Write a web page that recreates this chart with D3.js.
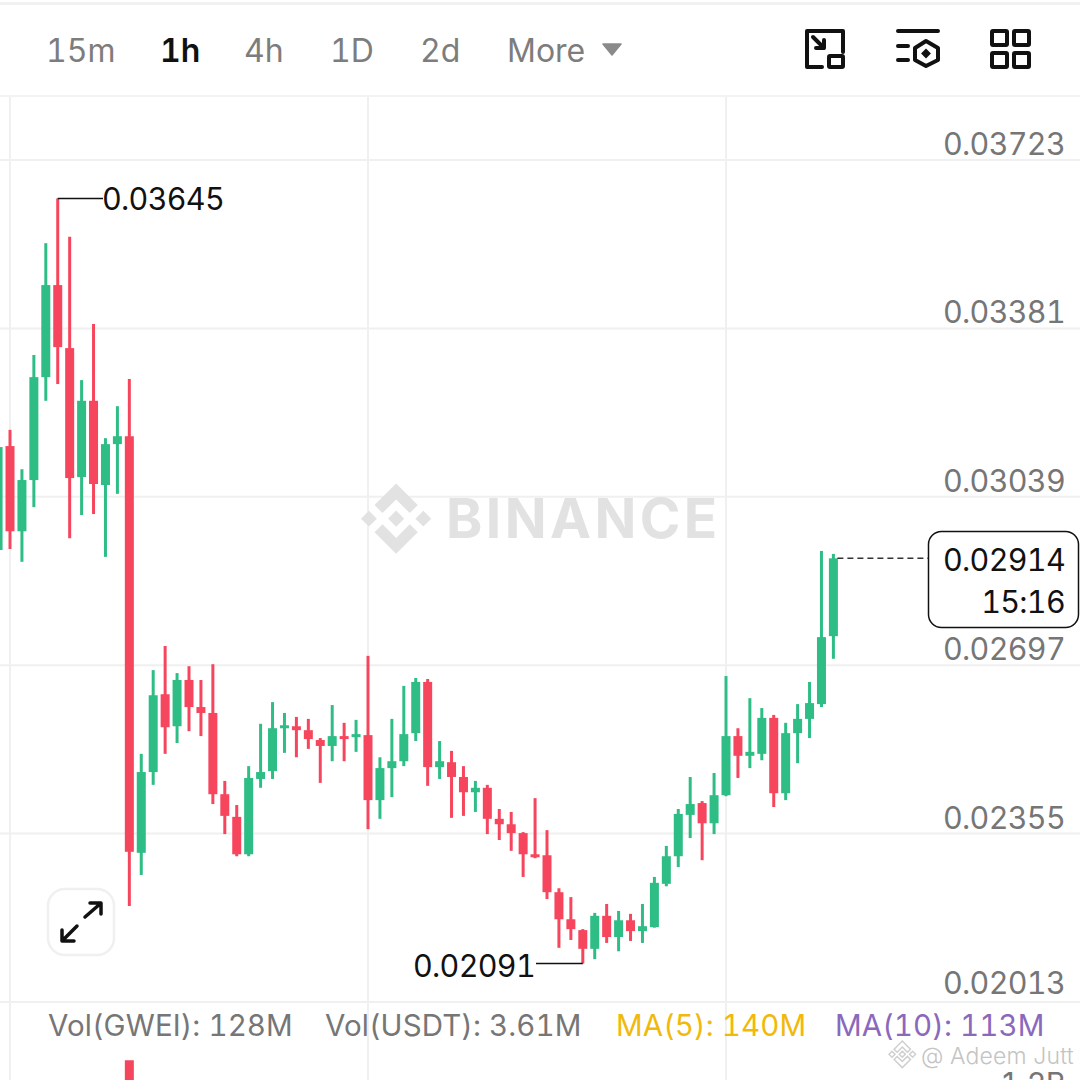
<!DOCTYPE html>
<html>
<head>
<meta charset="utf-8">
<script src="https://cdn.jsdelivr.net/npm/d3@7"></script>
<style>
  html, body { margin: 0; padding: 0; background: #fff; }
  svg { display: block; font-family: "Inter", sans-serif; font-feature-settings: "tnum" 1; font-variant-numeric: tabular-nums; }
</style>
</head>
<body>
<div id="chart"></div>
<script>
// candles, oldest first, prices in 1e-5 units
const opens = [2931, 3142, 2969, 3073, 3282, 3469, 3341, 3079, 3234, 3063, 3146, 3162, 2316, 2480, 2638, 2573, 2667, 2612, 2600, 2435, 2389, 2313, 2466, 2482, 2569, 2573, 2565, 2545, 2533, 2553, 2551, 2555, 2423, 2488, 2502, 2559, 2663, 2490, 2500, 2470, 2439, 2448, 2385, 2374, 2356, 2313, 2311, 2236, 2181, 2159, 2121, 2188, 2145, 2179, 2157, 2165, 2253, 2309, 2393, 2417, 2376, 2433, 2553, 2513, 2517, 2590, 2437, 2559, 2588, 2618, 2756];
const highs = [3170, 3175, 3095, 3327, 3554, 3645, 3567, 3276, 3390, 3158, 3223, 3278, 2517, 2687, 2736, 2681, 2695, 2667, 2699, 2462, 2413, 2492, 2578, 2622, 2600, 2592, 2588, 2549, 2616, 2580, 2586, 2716, 2510, 2588, 2655, 2671, 2669, 2543, 2523, 2492, 2462, 2454, 2405, 2399, 2358, 2427, 2362, 2244, 2226, 2161, 2194, 2212, 2198, 2192, 2212, 2267, 2330, 2405, 2470, 2421, 2478, 2675, 2569, 2630, 2610, 2596, 2580, 2618, 2663, 2929, 2923];
const lows = [2930, 2933, 2907, 3018, 3234, 3268, 2955, 3002, 3004, 2917, 3045, 2208, 2271, 2454, 2517, 2539, 2563, 2553, 2415, 2354, 2309, 2309, 2448, 2466, 2519, 2510, 2527, 2458, 2502, 2502, 2521, 2364, 2385, 2429, 2492, 2543, 2452, 2466, 2387, 2391, 2399, 2354, 2342, 2320, 2267, 2305, 2222, 2123, 2139, 2091, 2100, 2133, 2116, 2137, 2133, 2164, 2248, 2287, 2346, 2301, 2354, 2431, 2468, 2488, 2504, 2409, 2423, 2498, 2549, 2612, 2710];
const closes = [3140, 2969, 3073, 3282, 3469, 3343, 3077, 3234, 3065, 3146, 3162, 2318, 2480, 2636, 2571, 2667, 2612, 2600, 2435, 2391, 2313, 2468, 2480, 2569, 2575, 2565, 2547, 2533, 2553, 2547, 2557, 2423, 2488, 2502, 2557, 2663, 2490, 2502, 2470, 2439, 2448, 2385, 2374, 2356, 2313, 2307, 2236, 2181, 2161, 2121, 2188, 2145, 2179, 2157, 2167, 2255, 2309, 2395, 2415, 2376, 2433, 2553, 2513, 2521, 2590, 2437, 2559, 2588, 2620, 2754, 2914];

// only one volume bar shows above the bottom edge
const volumeIndex = [11];
const volumeValues = [1370];

const priceTicks = [3723, 3381, 3039, 2697, 2355, 2013];
const timeTicks = [1, 31, 61];
const intervals = ["15m", "1h", "4h", "1D", "2d", "More"];
const intervalX = [46, 160, 244, 330, 420, 507];
const legendLabels = ["Vol(GWEI): 128M", "Vol(USDT): 3.61M", "MA(5): 140M", "MA(10): 113M"];
const legendX = [48, 325, 616, 835];
const legendColors = ["#767676", "#767676", "#f0b90b", "#8a69bd"];

const UP = "#2ebd85", DOWN = "#f6465d", GRID = "#f0f0f0", LABEL = "#767676";
const PRICE_FONT = 30.5, PRICE_SPACING = -0.7;

const fmt = v => (v / 100000).toFixed(5);

const x = d3.scaleLinear().domain([1, 70]).range([10, 833.4]);
const y = d3.scaleLinear().domain([3723, 2013]).range([160, 1002]);
const yVol = d3.scaleLinear().domain([0, 1200]).range([1300, 1090]);

const svg = d3.select("#chart").append("svg")
  .attr("width", 1080)
  .attr("height", 1080)
  .attr("viewBox", "0 0 1080 1080");

// frame lines
svg.append("rect").attr("x", 0).attr("y", 2).attr("width", 1080).attr("height", 3).attr("fill", "#f1f1f1");
svg.append("rect").attr("x", 0).attr("y", 95).attr("width", 1080).attr("height", 2).attr("fill", "#f3f3f3");

// grid
const grid = svg.append("g").attr("stroke", GRID).attr("stroke-width", 2);
grid.selectAll(".h").data(priceTicks).join("line")
  .attr("x1", 0).attr("x2", 1080)
  .attr("y1", d => y(d)).attr("y2", d => y(d));
grid.selectAll(".v").data(timeTicks).join("line")
  .attr("x1", d => x(d)).attr("x2", d => x(d))
  .attr("y1", 97).attr("y2", 1080);

// watermark
const logoPaths = [
  "m38.73 53.2 24.59-24.58 24.6 24.6 14.3-14.31L63.32 0 24.43 38.9z",
  "m0 63.31 14.3-14.31 14.31 14.31-14.31 14.3z",
  "m38.73 73.41 24.59 24.59 24.6-24.6 14.31 14.29-38.9 38.91-38.91-38.88-.02-.02z",
  "m98 63.31 14.3-14.31 14.31 14.3-14.31 14.32z",
  "m77.83 63.3-14.51-14.52-10.73 10.73-1.24 1.23-2.54 2.54 14.51 14.5 14.51-14.47z"
];
const logo = svg.append("g").attr("transform", "translate(361,483.5) scale(0.555)").attr("fill", "#e2e2e2");
logoPaths.forEach(d => logo.append("path").attr("d", d));
svg.append("text").text("BINANCE")
  .attr("x", 446).attr("y", 538)
  .attr("font-size", 55).attr("font-weight", 700)
  .attr("letter-spacing", 3.4)
  .attr("fill", "#e2e2e2");

// candles
const idx = d3.range(opens.length);
const color = i => closes[i] >= opens[i] ? UP : DOWN;
const candles = svg.append("g");
candles.selectAll(".wick").data(idx).join("line")
  .attr("x1", i => x(i)).attr("x2", i => x(i))
  .attr("y1", i => y(highs[i])).attr("y2", i => y(lows[i]))
  .attr("stroke", color).attr("stroke-width", 3);
candles.selectAll(".body").data(idx).join("rect")
  .attr("x", i => x(i) - 4.5)
  .attr("width", 9)
  .attr("y", i => y(Math.max(opens[i], closes[i])))
  .attr("height", i => Math.max(3, Math.abs(y(opens[i]) - y(closes[i]))))
  .attr("fill", color);

// volume
svg.append("g").selectAll("rect").data(volumeIndex).join("rect")
  .attr("x", d => x(d) - 4.5).attr("width", 9)
  .attr("y", (d, i) => yVol(volumeValues[i]))
  .attr("height", (d, i) => yVol(0) - yVol(volumeValues[i]))
  .attr("fill", DOWN);

// price axis labels, the lowest one sits a little higher
svg.append("g").selectAll("text").data(priceTicks).join("text")
  .text(fmt)
  .attr("x", 1065).attr("y", d => Math.min(y(d) - 5, 994))
  .attr("text-anchor", "end")
  .attr("letter-spacing", PRICE_SPACING)
  .attr("font-size", PRICE_FONT).attr("fill", LABEL);

// high / low callouts
const hiIdx = highs.indexOf(d3.max(highs));
const loIdx = lows.indexOf(d3.min(lows));
svg.append("line")
  .attr("x1", x(hiIdx)).attr("x2", 103)
  .attr("y1", y(highs[hiIdx])).attr("y2", y(highs[hiIdx]))
  .attr("stroke", "#111").attr("stroke-width", 1.5);
svg.append("text").text(fmt(highs[hiIdx]))
  .attr("x", 102).attr("y", y(highs[hiIdx]) + 12)
  .attr("letter-spacing", PRICE_SPACING)
  .attr("font-size", PRICE_FONT).attr("fill", "#111");
svg.append("line")
  .attr("x1", 536).attr("x2", x(loIdx))
  .attr("y1", y(lows[loIdx])).attr("y2", y(lows[loIdx]))
  .attr("stroke", "#111").attr("stroke-width", 1.5);
svg.append("text").text(fmt(lows[loIdx]))
  .attr("x", 535).attr("y", y(lows[loIdx]) + 13)
  .attr("text-anchor", "end")
  .attr("letter-spacing", PRICE_SPACING)
  .attr("font-size", PRICE_FONT).attr("fill", "#111");

// last price tag
const last = closes[closes.length - 1];
svg.append("line")
  .attr("x1", x(70) + 4).attr("x2", 928)
  .attr("y1", y(last)).attr("y2", y(last))
  .attr("stroke", "#333").attr("stroke-width", 1.5)
  .attr("stroke-dasharray", "6 4");
svg.append("rect")
  .attr("x", 928.5).attr("y", 531.5).attr("width", 150).attr("height", 96).attr("rx", 13)
  .attr("fill", "#fff").attr("stroke", "#111").attr("stroke-width", 1.5);
svg.append("text").text(fmt(last))
  .attr("x", 1065).attr("y", 571).attr("text-anchor", "end")
  .attr("letter-spacing", PRICE_SPACING)
  .attr("font-size", PRICE_FONT).attr("fill", "#111");
svg.append("text").text("15:16")
  .attr("x", 1065).attr("y", 613).attr("text-anchor", "end")
  .attr("letter-spacing", PRICE_SPACING)
  .attr("font-size", PRICE_FONT).attr("fill", "#111");

// interval tabs
svg.append("g").selectAll("text").data(intervals).join("text")
  .text(d => d)
  .attr("x", (d, i) => intervalX[i]).attr("y", 62)
  .attr("font-size", 32)
  .attr("font-weight", d => d === "1h" ? 600 : 400)
  .attr("fill", d => d === "1h" ? "#111" : "#7d7d7d");
svg.append("path").attr("d", "M603 44 H621 L612 55 Z").attr("fill", "#8a8a8a").attr("stroke", "#8a8a8a").attr("stroke-width", 1.5).attr("stroke-linejoin", "round");

// toolbar icons
const icons = svg.append("g").attr("fill", "none").attr("stroke", "#111").attr("stroke-width", 4).attr("stroke-linecap", "round").attr("stroke-linejoin", "round");
icons.append("path").attr("d", "M822 67 H807 V31 H843 V52");
icons.append("path").attr("d", "M813 37 L824 48 M824 40 V48 H816");
icons.append("rect").attr("x", 829).attr("y", 56).attr("width", 14).attr("height", 11).attr("rx", 1);
icons.append("path").attr("d", "M898 31 H938 M898 46 H908 M898 60 H908");
icons.append("path").attr("d", "M926 41 L938 48 V60 L926 66 L915 60 V48 Z");
icons.append("rect").attr("x", 926 - 3.5).attr("y", 50).attr("width", 7).attr("height", 7).attr("transform", "rotate(45 926 53.5)").attr("fill", "#111").attr("stroke", "none");
[[992, 31], [1014, 31], [992, 53], [1014, 53]].forEach(p => {
  icons.append("rect").attr("x", p[0]).attr("y", p[1]).attr("width", 15).attr("height", 14).attr("rx", 1);
});

// expand button
svg.append("rect")
  .attr("x", 48).attr("y", 889).attr("width", 66).attr("height", 66).attr("rx", 17)
  .attr("fill", "#fff").attr("stroke", "#f0f0f0").attr("stroke-width", 2.5);
svg.append("path")
  .attr("d", "M85 917 L100 904 M90 903 H101 V914 M77 926 L63 940 M62 930 V941 H74")
  .attr("fill", "none").attr("stroke", "#111").attr("stroke-width", 3.5)
  .attr("stroke-linecap", "round").attr("stroke-linejoin", "round");

// legend row
svg.append("g").selectAll("text").data(legendLabels).join("text")
  .text(d => d)
  .attr("x", (d, i) => legendX[i]).attr("y", 1036)
  .attr("font-size", 29.5)
  .attr("letter-spacing", 0.1)
  .attr("fill", (d, i) => legendColors[i]);

// volume axis label, cut by the bottom edge
svg.append("text").text("1.2B")
  .attr("x", 1065).attr("y", 1095).attr("text-anchor", "end")
  .attr("letter-spacing", PRICE_SPACING)
  .attr("font-size", PRICE_FONT).attr("fill", LABEL);

// credit watermark
const credit = svg.append("g").attr("transform", "translate(889,1041) scale(0.21)")
  .attr("fill", "#fff").attr("stroke", "#cfcfcf").attr("stroke-width", 7);
logoPaths.forEach(d => credit.append("path").attr("d", d));
svg.append("text").text("@ Adeem Jutt")
  .attr("x", 921).attr("y", 1064)
  .attr("font-size", 23)
  .attr("font-weight", 300)
  .attr("letter-spacing", 0.2)
  .attr("fill", "#c4c4c4");
</script>
</body>
</html>
